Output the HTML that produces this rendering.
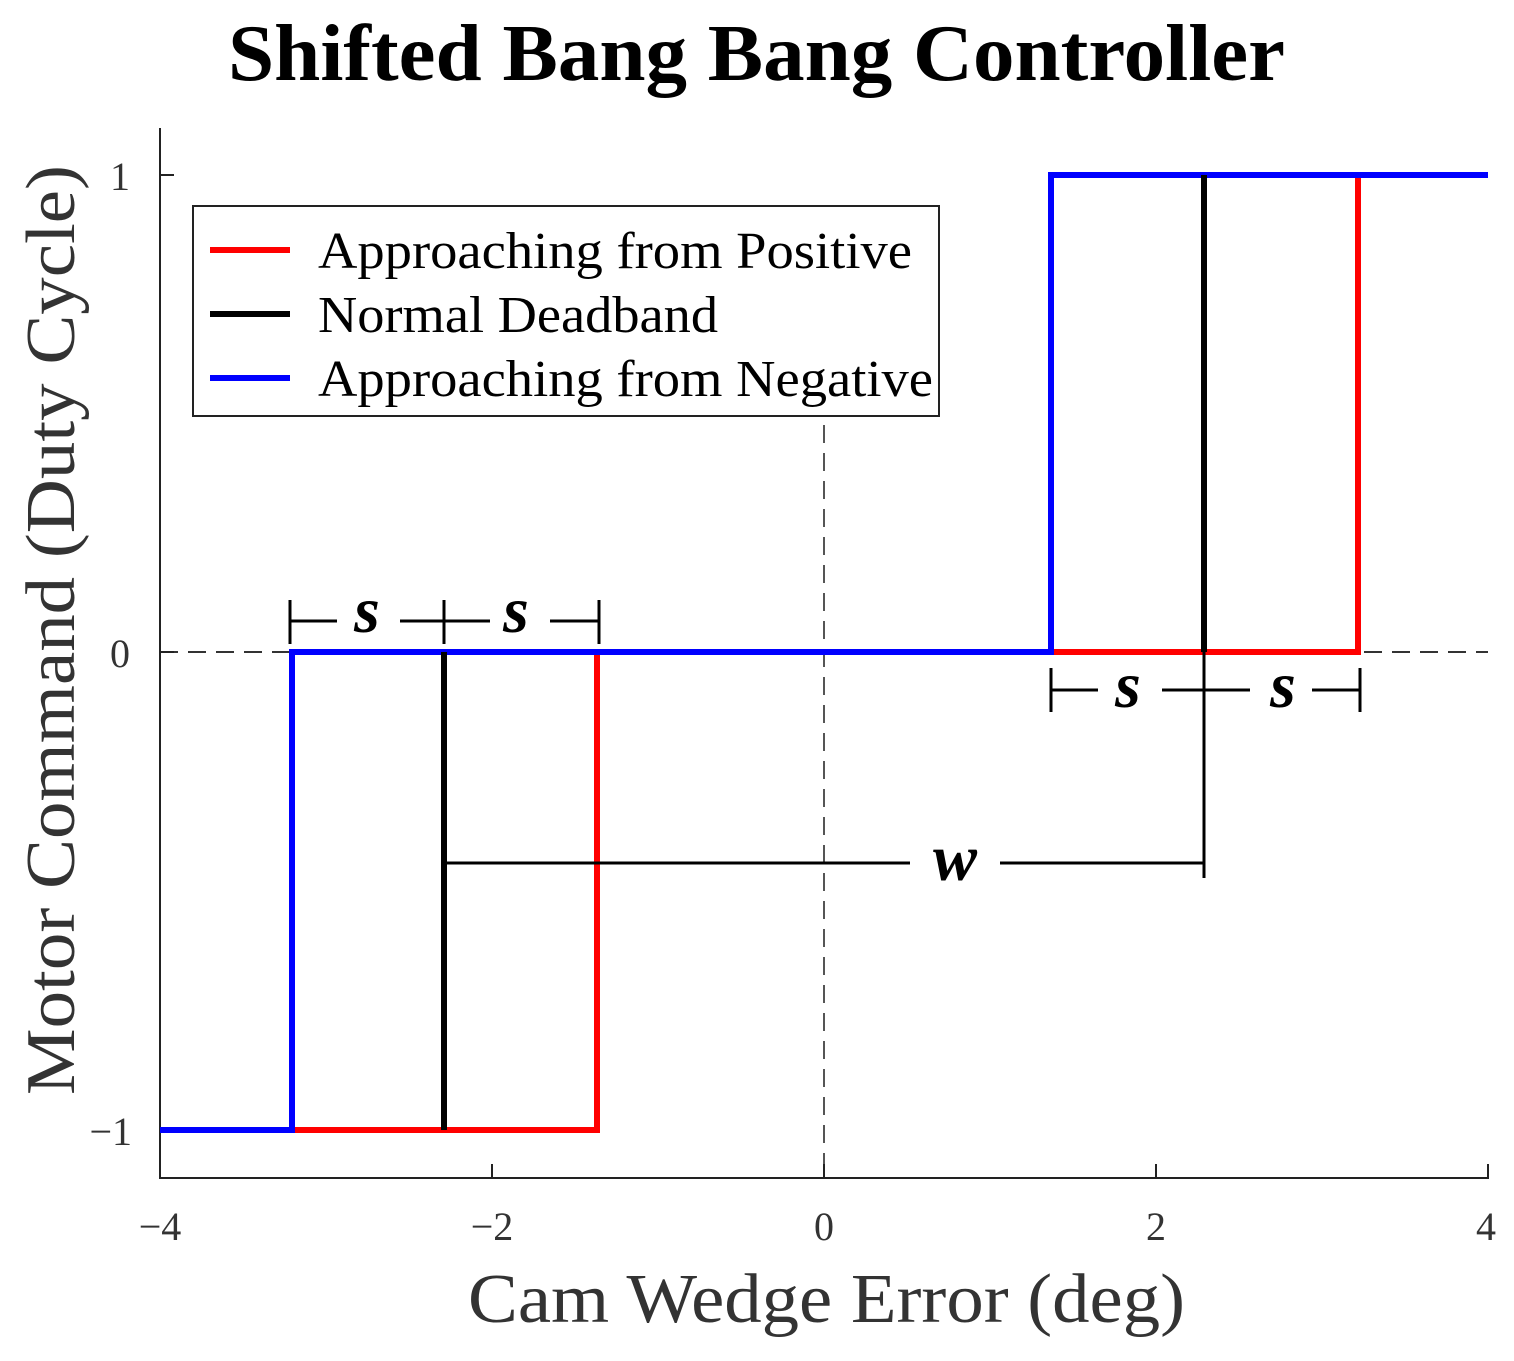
<!DOCTYPE html>
<html><head><meta charset="utf-8"><style>body{margin:0;background:#fff}svg{display:block}</style></head><body>
<svg width="1514" height="1361" xmlns="http://www.w3.org/2000/svg" font-family="Liberation Serif, serif">
<rect width="1514" height="1361" fill="#fff"/>
<text x="228" y="80" font-size="80" font-weight="bold" textLength="1057" lengthAdjust="spacingAndGlyphs">Shifted Bang Bang Controller</text>
<line x1="160" y1="652" x2="1488" y2="652" stroke="#333" stroke-width="2" stroke-dasharray="18,10"/>
<line x1="824" y1="425" x2="824" y2="1178" stroke="#555" stroke-width="2" stroke-dasharray="18,10"/>
<line x1="160" y1="128" x2="160" y2="1179" stroke="#222" stroke-width="2"/>
<line x1="159" y1="1178" x2="1489" y2="1178" stroke="#222" stroke-width="2"/>
<g stroke="#222" stroke-width="2">
<line x1="160" y1="175" x2="174" y2="175"/><line x1="160" y1="652" x2="174" y2="652"/><line x1="160" y1="1130" x2="174" y2="1130"/>
<line x1="492" y1="1178" x2="492" y2="1164"/><line x1="824" y1="1178" x2="824" y2="1164"/><line x1="1156" y1="1178" x2="1156" y2="1164"/><line x1="1488" y1="1178" x2="1488" y2="1164"/>
</g>
<g font-size="40" fill="#333">
<text x="130" y="190" text-anchor="end">1</text>
<text x="130" y="667" text-anchor="end">0</text>
<text x="132" y="1145" text-anchor="end">−1</text>
<text x="160" y="1240" text-anchor="middle">−4</text>
<text x="492" y="1240" text-anchor="middle">−2</text>
<text x="824" y="1240" text-anchor="middle">0</text>
<text x="1156" y="1240" text-anchor="middle">2</text>
<text x="1486" y="1240" text-anchor="middle">4</text>
</g>
<text x="468" y="1322" font-size="70" fill="#333" textLength="717" lengthAdjust="spacingAndGlyphs">Cam Wedge Error (deg)</text>
<text transform="translate(74,1095) rotate(-90)" font-size="70" fill="#333" textLength="930" lengthAdjust="spacingAndGlyphs">Motor Command (Duty Cycle)</text>
<polyline points="292,1130 597,1130 597,652 1358,652 1358,175" fill="none" stroke="#f00" stroke-width="6"/>
<polyline points="160,1130 292,1130 292,652 1051,652 1051,175 1488,175" fill="none" stroke="#00f" stroke-width="6"/>
<line x1="444" y1="652" x2="444" y2="1130" stroke="#000" stroke-width="6"/>
<line x1="1204" y1="175" x2="1204" y2="652" stroke="#000" stroke-width="6"/>
<g stroke="#000" stroke-width="3">
<line x1="290" y1="600" x2="290" y2="644"/><line x1="444" y1="600" x2="444" y2="644"/><line x1="599" y1="600" x2="599" y2="644"/>
<line x1="290" y1="621" x2="337" y2="621"/><line x1="400" y1="621" x2="490" y2="621"/><line x1="550" y1="621" x2="599" y2="621"/>
<line x1="1051" y1="668" x2="1051" y2="712"/><line x1="1204" y1="652" x2="1204" y2="712"/><line x1="1360" y1="668" x2="1360" y2="712"/>
<line x1="1051" y1="690" x2="1098" y2="690"/><line x1="1162" y1="690" x2="1250" y2="690"/><line x1="1312" y1="690" x2="1360" y2="690"/>
<line x1="444" y1="863" x2="910" y2="863"/><line x1="1000" y1="863" x2="1204" y2="863"/>
<line x1="1204" y1="652" x2="1204" y2="878"/><line x1="444" y1="848" x2="444" y2="878"/>
</g>
<g font-size="66" font-weight="bold" font-style="italic" text-anchor="middle">
<text x="367" y="632">s</text><text x="516" y="632">s</text>
<text x="1128" y="707">s</text><text x="1283" y="707">s</text>
<text x="955" y="880">w</text>
</g>
<rect x="193" y="206" width="746" height="210" fill="#fff" stroke="#222" stroke-width="2"/>
<line x1="210" y1="250" x2="290" y2="250" stroke="#f00" stroke-width="6"/>
<line x1="210" y1="314" x2="290" y2="314" stroke="#000" stroke-width="6"/>
<line x1="210" y1="378" x2="290" y2="378" stroke="#00f" stroke-width="6"/>
<g font-size="52">
<text x="318" y="268" textLength="594" lengthAdjust="spacingAndGlyphs">Approaching from Positive</text>
<text x="318" y="332" textLength="400" lengthAdjust="spacingAndGlyphs">Normal Deadband</text>
<text x="318" y="396" textLength="615" lengthAdjust="spacingAndGlyphs">Approaching from Negative</text>
</g>
</svg>
</body></html>
